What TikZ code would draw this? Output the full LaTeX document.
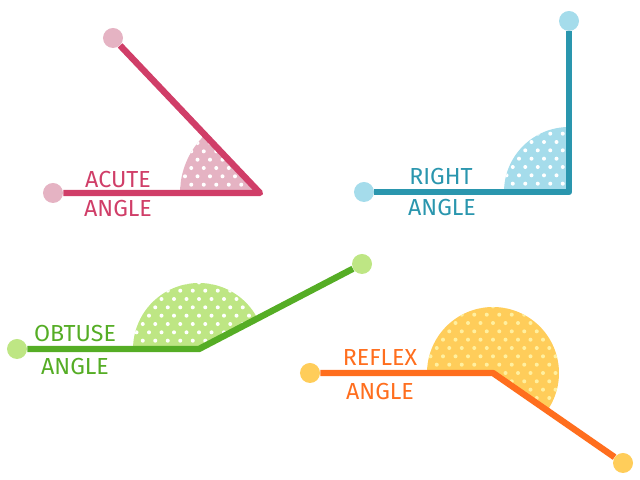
\documentclass[tikz,border=0pt]{standalone}
\usepackage{fontspec}
\setmainfont{Fira Sans}
\usepackage{tikz}
\usetikzlibrary{calc}
\definecolor{pinkline}{RGB}{208, 62, 104}
\definecolor{pinkfill}{RGB}{229, 179, 195}
\definecolor{tealline}{RGB}{42, 150, 174}
\definecolor{tealfill}{RGB}{165, 220, 235}
\definecolor{greenline}{RGB}{85, 173, 37}
\definecolor{greenfill}{RGB}{190, 230, 132}
\definecolor{orangeline}{RGB}{255, 110, 30}
\definecolor{orangefill}{RGB}{255, 205, 90}
\definecolor{paleyellow}{RGB}{255, 240, 160}

% dotted angle sector: vertex, start, end, radius, fill, dot colour
\newcommand{\anglefill}[6]{%
	\begin{scope}
		\clip (#1) -- ++(#2:#4) arc[start angle=#2, end angle=#3, radius=#4] -- cycle;
		\fill[#5] (#1) circle (#4+5);
		\foreach \j in {-11,...,11}
			\foreach \i in {-7,...,7} {
				\pgfmathsetmacro{\dx}{12.5*\i+6.25*mod(\j,2)}
				\pgfmathsetmacro{\dy}{8.33*\j}
				\fill[#6] ($(#1)+(\dx,\dy)$) circle (2);
			}
	\end{scope}}

\begin{document}
\begin{tikzpicture}[x = 0.025cm, y = 0.025cm,
			enddot/.style = {circle, minimum size = 0.5cm, inner sep = 0},
			arm/.style = {line width = 0.16cm, line join = round},
			lbl/.style = {font = \fontsize{16.5}{19}\selectfont, inner sep = 0}]
			\useasboundingbox (0,0) rectangle (640,480);

			% acute
			\coordinate (av) at (260,287);
			\anglefill{av}{133.5}{180}{80}{pinkfill}{white}
			\node (a1) at (53,287) [enddot, fill = pinkfill] {};
			\node (a2) at (113,442) [enddot, fill = pinkfill] {};
			\node (at) at (118,300) [lbl, text = pinkline] {ACUTE};
			\node (ab) at (118,271) [lbl, text = pinkline] {ANGLE};
			\draw[arm, pinkline] (a1) -- (av) -- (a2);

			% right
			\coordinate (rv) at (569,288);
			\anglefill{rv}{90}{180}{65}{tealfill}{white}
			\node (r1) at (364,288) [enddot, fill = tealfill] {};
			\node (r2) at (569,459) [enddot, fill = tealfill] {};
			\node (rt) at (441,303) [lbl, text = tealline] {RIGHT};
			\node (rb) at (442,272) [lbl, text = tealline] {ANGLE};
			\draw[arm, tealline] (r1) -- (rv) -- (r2);

			% obtuse
			\coordinate (ov) at (199,131);
			\anglefill{ov}{27.5}{180}{66}{greenfill}{white}
			\node (o1) at (17,131) [enddot, fill = greenfill] {};
			\node (o2) at (362,216) [enddot, fill = greenfill] {};
			\node (ot) at (75,146) [lbl, text = greenline] {OBTUSE};
			\node (ob) at (75,113) [lbl, text = greenline] {ANGLE};
			\draw[arm, greenline] (o1) -- (ov) -- (o2);

			% reflex
			\coordinate (xv) at (493,107);
			\anglefill{xv}{-34.7}{180}{66}{orangefill}{paleyellow}
			\node (x1) at (310,107) [enddot, fill = orangefill] {};
			\node (x2) at (623,17) [enddot, fill = orangefill] {};
			\node (xt) at (380,122) [lbl, text = orangeline] {REFLEX};
			\node (xb) at (380,88) [lbl, text = orangeline] {ANGLE};
			\draw[arm, orangeline] (x1) -- (xv) -- (x2);
\end{tikzpicture}
\end{document}
